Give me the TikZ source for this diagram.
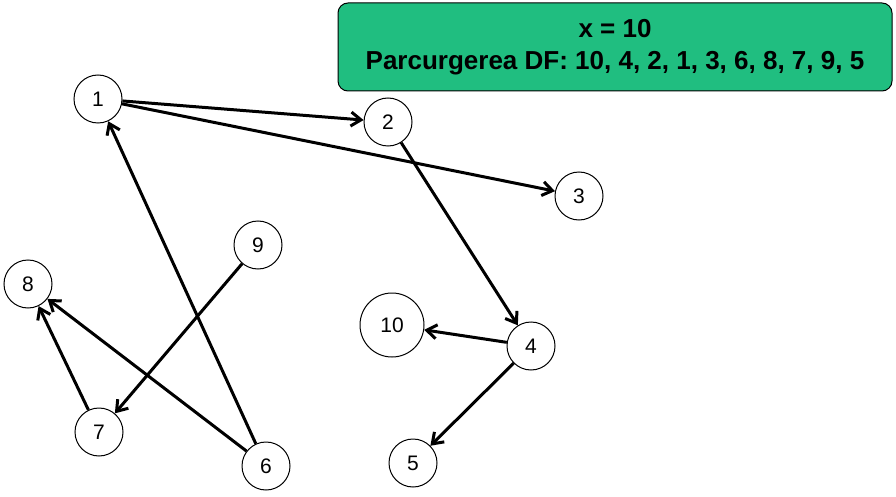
\documentclass[tikz,border=0pt]{standalone}
\usepackage{fontspec}
\setmainfont{Liberation Sans}
\usetikzlibrary{arrows.meta}
\definecolor{boxg}{RGB}{32,190,128}
\begin{document}
\begin{tikzpicture}[x=1pt,y=-1pt,
  vtx/.style={circle,draw,line width=1pt,minimum size=48pt,inner sep=0pt,font=\fontsize{21}{24}\selectfont},
  edge/.style={line width=3pt,-{Straight Barb[length=10pt,width=14pt,line width=3pt]}}]
\useasboundingbox (0,0) rectangle (896,497);
\node[draw,line width=1pt,rounded corners=10pt,fill=boxg,minimum width=554pt,minimum height=88pt,align=center,font=\fontsize{26}{32}\selectfont\bfseries] (box) at (615,47) {x = 10\\Parcurgerea DF: 10, 4, 2, 1, 3, 6, 8, 7, 9, 5};
\node[vtx] (n1) at (98,99) {1};
\node[vtx] (n2) at (388,122) {2};
\node[vtx] (n3) at (579,196) {3};
\node[vtx] (n9) at (258,245) {9};
\node[vtx] (n8) at (28,284) {8};
\node[vtx,minimum size=64pt] (n10) at (392,325) {10};
\node[vtx] (n4) at (531,346) {4};
\node[vtx] (n7) at (99,432) {7};
\node[vtx] (n6) at (266,466) {6};
\node[vtx] (n5) at (413,463) {5};
\draw[edge] (n1) -- (n2);
\draw[edge] (n1) -- (n3);
\draw[edge] (n2) -- (n4);
\draw[edge] (n4) -- (n10);
\draw[edge] (n4) -- (n5);
\draw[edge] (n6) -- (n1);
\draw[edge] (n6) -- (n8);
\draw[edge] (n7) -- (n8);
\draw[edge] (n9) -- (n7);
\end{tikzpicture}
\end{document}
